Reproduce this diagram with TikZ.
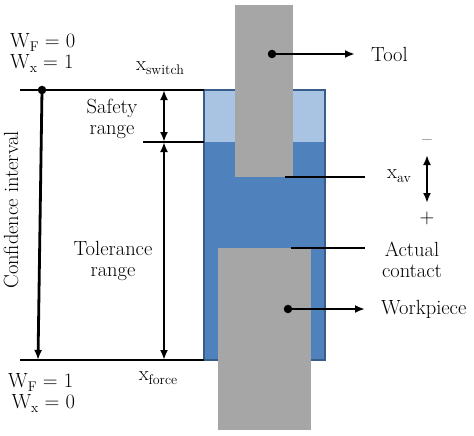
\documentclass[tikz,border=0pt]{standalone}
\usetikzlibrary{arrows.meta}
\definecolor{lightblu}{HTML}{A9C3E3}
\definecolor{darkblu}{HTML}{4F81BD}
\definecolor{borderblu}{HTML}{385D8A}
\definecolor{partgray}{HTML}{A6A6A6}
\newcommand\lowsub[1]{\raisebox{-0.5ex}{\fontsize{14}{14}\selectfont #1}}
\begin{document}
\begin{tikzpicture}[x=1pt,y=-1pt,
  font=\fontsize{20.5}{21.5}\selectfont,
  ln/.style={line width=2.8pt},
  tip/.style={-{Latex[length=10pt,width=8pt]}},
  dtip/.style={{Latex[length=10pt,width=8pt]}-{Latex[length=10pt,width=8pt]}},
  lbl/.style={inner sep=0pt, align=center},
  dotmark/.style={circle, fill=black, inner sep=0pt, minimum size=8.5pt}]
\useasboundingbox (0,0) rectangle (474,436);
% container
\fill[lightblu] (204,90) rectangle (325,142);
\fill[darkblu] (204,142) rectangle (325,360);
\draw[borderblu, line width=1.6pt] (204,90) rectangle (325,360);
% tool and workpiece
\fill[partgray] (235,5) rectangle (293,177);
\fill[partgray] (218,248) rectangle (311,430);
% coordinates
\coordinate (tl) at (20,90);
\coordinate (tr) at (204,90);
\coordinate (bl) at (20,360);
\coordinate (br) at (204,360);
\coordinate (sl) at (143,142);
\coordinate (sr) at (204,142);
\node[dotmark] (cdot) at (42,90) {};
\coordinate (cend) at (38,360);
\coordinate (stop) at (164,90);
\coordinate (smid) at (164,142);
\coordinate (sbot) at (164,360);
\node[dotmark] (tooldot) at (272,54) {};
\coordinate (toolend) at (355,54);
\coordinate (avl) at (285,177);
\coordinate (avr) at (365,177);
\coordinate (acl) at (291,248);
\coordinate (acr) at (365,248);
\node[dotmark] (wpdot) at (288,309) {};
\coordinate (wpend) at (365,309);
% lines
\draw[ln] (tl) -- (tr);
\draw[ln] (bl) -- (br);
\draw[ln] (sl) -- (sr);
\draw[ln, tip] (cdot.center) -- (cend);
\draw[ln, dtip] (stop) -- (smid);
\draw[ln, dtip] (smid) -- (sbot);
\draw[ln, tip] (tooldot.center) -- (toolend);
\draw[ln] (avl) -- (avr);
\draw[ln] (acl) -- (acr);
\draw[ln, tip] (wpdot.center) -- (wpend);
% x_av direction
\node[lbl] (minus) at (427,143) {\textendash};
\node[lbl] (plus) at (427,218) {+};
\draw[ln, dtip] (427,155) -- (427,203);
% labels
\node[lbl, anchor=west, align=left] (wtop) at (10,53) {W\lowsub{F} = 0\\W\lowsub{x} = 1};
\node[lbl, anchor=west, align=left] (wbot) at (8,393) {W\lowsub{F} = 1\\\,W\lowsub{x} = 0};
\node[lbl] (xswitch) at (160,68) {x\lowsub{switch}};
\node[lbl] (xforce) at (158,378) {x\lowsub{force}};
\node[lbl] (safety) at (112,119) {Safety\\range};
\node[lbl] (tolerance) at (113,261) {Tolerance\\range};
\node[lbl, rotate=90] (conf) at (11,210) {Confidence interval};
\node[lbl, anchor=west] (tool) at (371,54) {Tool};
\node[lbl, anchor=west] (xav) at (387,176) {x\lowsub{av}};
\node[lbl] (actual) at (412,260) {Actual\\contact};
\node[lbl, anchor=west] (wp) at (381,309) {Workpiece};
\end{tikzpicture}
\end{document}
